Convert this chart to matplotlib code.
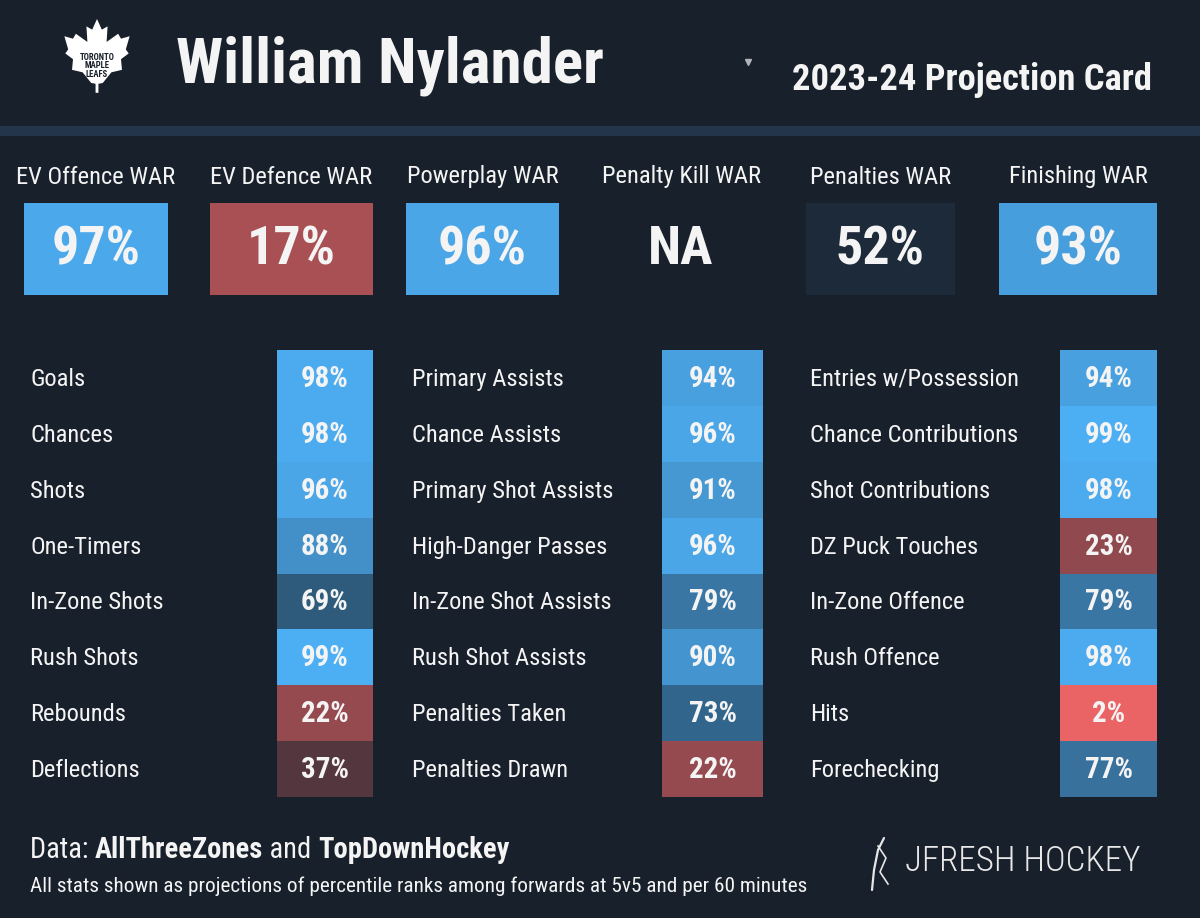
import matplotlib
matplotlib.use("Agg")
import matplotlib.pyplot as plt
from matplotlib import font_manager
from matplotlib.colors import LinearSegmentedColormap
from matplotlib.patches import Rectangle, Polygon

# ---------------- data ----------------
player = "William Nylander"
card_title = "2023-24 Projection Card"

war_labels = ["EV Offence WAR", "EV Defence WAR", "Powerplay WAR",
              "Penalty Kill WAR", "Penalties WAR", "Finishing WAR"]
war_values = [97, 17, 96, None, 52, 93]

col1_labels = ["Goals", "Chances", "Shots", "One-Timers", "In-Zone Shots",
               "Rush Shots", "Rebounds", "Deflections"]
col1_values = [98, 98, 96, 88, 69, 99, 22, 37]

col2_labels = ["Primary Assists", "Chance Assists", "Primary Shot Assists",
               "High-Danger Passes", "In-Zone Shot Assists", "Rush Shot Assists",
               "Penalties Taken", "Penalties Drawn"]
col2_values = [94, 96, 91, 96, 79, 90, 73, 22]

col3_labels = ["Entries w/Possession", "Chance Contributions", "Shot Contributions",
               "DZ Puck Touches", "In-Zone Offence", "Rush Offence", "Hits",
               "Forechecking"]
col3_values = [94, 99, 98, 23, 79, 98, 2, 77]

footer_parts = [("Data: ", False), ("AllThreeZones", True), (" and ", False),
                ("TopDownHockey", True)]
footer_note = ("All stats shown as projections of percentile ranks among "
               "forwards at 5v5 and per 60 minutes")
brand = "JFRESH HOCKEY"

# ---------------- style ----------------
BG = "#18202b"
BAND = "#22354a"
WHITE = "#f4f4f4"
cmap = LinearSegmentedColormap.from_list(
    "pct", [(0.0, "#f26767"), (0.5, "#1b2430"), (1.0, "#4eb1f6")])

available = {f.name for f in font_manager.fontManager.ttflist}
font = "DejaVu Sans"
for cand in ["Roboto Condensed", "Liberation Sans Narrow", "Open Sans Condensed",
             "DejaVu Sans Condensed", "Roboto"]:
    if cand in available:
        font = cand
        break
plt.rcParams["font.family"] = [font, "DejaVu Sans"]

PT = 0.72  # pixels -> points at dpi 100

fig = plt.figure(figsize=(12, 9.18), dpi=100)
fig.patch.set_facecolor(BG)
ax = fig.add_axes([0, 0, 1, 1])
ax.set_xlim(0, 1200)
ax.set_ylim(918, 0)
ax.axis("off")
ax.set_facecolor(BG)

# ---------------- header ----------------
# maple leaf logo
half = [(0.0, 1.0), (0.10, 0.74), (0.22, 0.82), (0.20, 0.44), (0.44, 0.64),
        (0.50, 0.52), (0.68, 0.58), (0.60, 0.26), (0.66, 0.16), (0.50, 0.02),
        (0.52, -0.24), (0.30, -0.30), (0.12, -0.56), (0.03, -0.58), (0.03, -0.80)]
pts = half + [(-x, y) for x, y in reversed(half)]
cx, cy, sx, sy = 97, 60, 48, 41
leaf = Polygon([(cx + x * sx, cy - y * sy) for x, y in pts], closed=True,
               facecolor="white", edgecolor="none")
ax.add_patch(leaf)
ax.text(cx, cy + 6, "TORONTO\nMAPLE\nLEAFS", ha="center", va="center",
        fontsize=6.2, color=BG, fontweight="bold", linespacing=0.95)

ax.text(176, 66, player, ha="left", va="center", fontsize=63 * PT,
        fontweight="bold", color=WHITE)
ax.plot([748], [62], marker="v", markersize=4, color="#b0b4ba")
ax.text(1152, 80, card_title, ha="right", va="center", fontsize=36.5 * PT,
        fontweight="bold", color=WHITE)

ax.add_patch(Rectangle((0, 126), 1200, 10, facecolor=BAND, edgecolor="none"))

# ---------------- WAR boxes ----------------
war_boxes = [(24, 168), (210, 373), (406, 559), (600, 762), (806, 955), (999, 1157)]
for (x0, x1), lab, val in zip(war_boxes, war_labels, war_values):
    xc = (x0 + x1) / 2
    ax.text(xc, 177, lab, ha="center", va="center", fontsize=24.5 * PT, color=WHITE)
    if val is not None:
        ax.add_patch(Rectangle((x0, 203), x1 - x0, 92,
                               facecolor=cmap(val / 100), edgecolor="none"))
        txt = f"{val}%"
    else:
        txt = "NA"
    ax.text(xc, 250, txt, ha="center", va="center", fontsize=54 * PT,
            fontweight="bold", color=WHITE)

# ---------------- tables ----------------
columns = [
    (col1_labels, col1_values, 30, 277, 373),
    (col2_labels, col2_values, 412, 662, 763),
    (col3_labels, col3_values, 810, 1060, 1157),
]
top, rh = 350, (797 - 350) / 8
for labels, values, lx, x0, x1 in columns:
    for i, (lab, val) in enumerate(zip(labels, values)):
        y0 = top + i * rh
        yc = y0 + rh / 2
        ax.add_patch(Rectangle((x0, y0), x1 - x0, rh,
                               facecolor=cmap(val / 100), edgecolor="none"))
        ax.text(lx, yc + 1.5, lab, ha="left", va="center", fontsize=24.5 * PT,
                color=WHITE)
        ax.text((x0 + x1) / 2, yc + 1, f"{val}%", ha="center", va="center",
                fontsize=29 * PT, fontweight="bold", color=WHITE)

# ---------------- footer ----------------
fig.canvas.draw()
renderer = fig.canvas.get_renderer()
x = 30
for s, bold in footer_parts:
    t = ax.text(x, 850, s, ha="left", va="center", fontsize=28.5 * PT,
                fontweight="bold" if bold else "normal", color=WHITE)
    bb = t.get_window_extent(renderer=renderer)
    x = bb.x1
ax.text(30, 886, footer_note, ha="left", va="center", fontsize=21.3 * PT,
        color=WHITE)

# brand mark
ax.plot([884, 878, 874, 872], [838, 850, 870, 890], color="#e6e6e6", lw=1.6,
        solid_capstyle="round")
ax.plot([878, 886, 880, 888], [846, 858, 872, 884], color="#e6e6e6", lw=1.2)
ax.text(905, 861, brand, ha="left", va="center", fontsize=35 * PT,
        fontweight="light", color="#e8e8e8")

fig.savefig("out.png", dpi=100, facecolor=BG)
